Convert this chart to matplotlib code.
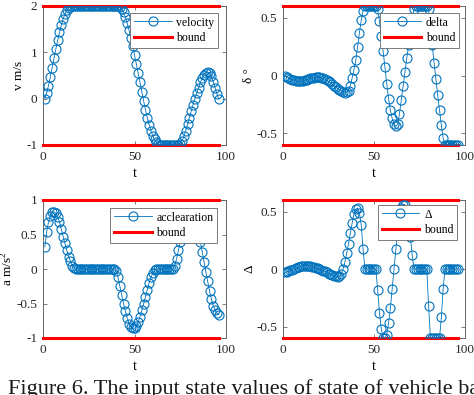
#!/usr/bin/env python

# Four-panel state / input plot with bounds (MATLAB-style look)

import matplotlib
from matplotlib.backends.backend_agg import \
             FigureCanvasAgg as FigureCanvas
from matplotlib.figure import Figure

# Time steps
t = list(range(1, 97))

velocity = [0.0, 0.12, 0.28, 0.47, 0.67, 0.87, 1.07, 1.26, 1.43, 1.58,
            1.72, 1.83, 1.91, 1.96, 1.99, 2.0, 2.0, 2.0, 2.0, 2.0,
            2.0, 2.0, 2.0, 2.0, 2.0, 2.0, 2.0, 2.0, 2.0, 2.0,
            2.0, 2.0, 2.0, 2.0, 2.0, 2.0, 2.0, 2.0, 2.0, 2.0,
            2.0, 1.98, 1.94, 1.86, 1.76, 1.63, 1.48, 1.31, 1.13, 0.94,
            0.75, 0.55, 0.35, 0.15, -0.05, -0.24, -0.41, -0.56, -0.69, -0.8,
            -0.88, -0.94, -0.98, -1.0, -1.0, -1.0, -1.0, -1.0, -1.0, -1.0,
            -1.0, -1.0, -1.0, -1.0, -0.97, -0.91, -0.81, -0.69, -0.55, -0.41,
            -0.27, -0.13, 0.0, 0.12, 0.24, 0.35, 0.44, 0.51, 0.56, 0.57,
            0.55, 0.48, 0.37, 0.24, 0.11, 0.0]

delta = [0.0, -0.01, -0.02, -0.03, -0.035, -0.04, -0.045, -0.05, -0.05, -0.05,
         -0.045, -0.04, -0.035, -0.03, -0.025, -0.02, -0.02, -0.015, -0.015, -0.015,
         -0.02, -0.025, -0.03, -0.04, -0.05, -0.06, -0.075, -0.09, -0.1, -0.115,
         -0.125, -0.135, -0.145, -0.15, -0.145, -0.13, -0.09, -0.02, 0.05, 0.13,
         0.25, 0.37, 0.48, 0.56, 0.6, 0.6, 0.6, 0.6, 0.6, 0.6,
         0.6, 0.57, 0.47, 0.34, 0.21, 0.07, -0.07, -0.2, -0.3, -0.37,
         -0.42, -0.44, -0.42, -0.33, -0.21, -0.09, 0.03, 0.15, 0.26, 0.38,
         0.5, 0.57, 0.6, 0.6, 0.6, 0.6, 0.6, 0.6, 0.6, 0.57,
         0.45, 0.26, 0.11, -0.03, -0.17, -0.3, -0.43, -0.54, -0.6, -0.6,
         -0.6, -0.6, -0.6, -0.6, -0.6, -0.6]

accel = [0.32, 0.54, 0.68, 0.77, 0.82, 0.83, 0.81, 0.76, 0.68, 0.58,
         0.47, 0.37, 0.27, 0.18, 0.11, 0.05, 0.02, 0.0, 0.0, 0.0,
         0.0, 0.0, 0.0, 0.0, 0.0, 0.0, 0.0, 0.0, 0.0, 0.0,
         0.0, 0.0, 0.0, 0.0, 0.0, 0.0, 0.0, 0.0, 0.0, -0.03,
         -0.12, -0.25, -0.38, -0.5, -0.61, -0.71, -0.79, -0.84, -0.86, -0.86,
         -0.83, -0.77, -0.69, -0.6, -0.5, -0.4, -0.3, -0.2, -0.12, -0.06,
         -0.02, 0.0, 0.0, 0.0, 0.0, 0.0, 0.0, 0.0, 0.0, 0.0,
         0.0, 0.05, 0.15, 0.27, 0.39, 0.47, 0.55, 0.64, 0.71, 0.75,
         0.76, 0.74, 0.69, 0.6, 0.5, 0.39, 0.25, 0.1, -0.04, -0.18,
         -0.32, -0.44, -0.53, -0.6, -0.64, -0.66]

Delta = [-0.03, -0.025, -0.02, -0.01, -0.005, 0.0, 0.01, 0.015, 0.02, 0.025,
         0.03, 0.03, 0.03, 0.03, 0.025, 0.02, 0.015, 0.01, 0.005, 0.0,
         -0.01, -0.015, -0.02, -0.03, -0.04, -0.045, -0.05, -0.06, -0.065, -0.07,
         -0.065, -0.04, 0.0, 0.06, 0.14, 0.22, 0.31, 0.4, 0.48, 0.52,
         0.53, 0.49, 0.38, 0.17, 0.0, 0.0, 0.0, 0.0, 0.0, 0.0,
         0.0, -0.18, -0.38, -0.52, -0.6, -0.6, -0.57, -0.47, -0.34, -0.17,
         0.0, 0.17, 0.33, 0.46, 0.53, 0.56, 0.56, 0.5, 0.4, 0.28,
         0.12, 0.0, 0.0, 0.0, 0.0, 0.0, 0.0, 0.0, 0.0, -0.32,
         -0.6, -0.6, -0.6, -0.6, -0.6, -0.6, -0.42, -0.17, 0.0, 0.0,
         0.0, 0.0, 0.0, 0.0, 0.0, 0.0]

bound_t = [0, 96]
v_bounds = (2.0, -1.0)
delta_bounds = (0.6, -0.6)
a_bounds = (1.0, -1.0)
Delta_bounds = (0.6, -0.6)

caption = "Figure 6. The input state values of state of vehicle based"

W, H = 474, 395
fig = Figure(figsize=(W/100, H/100), dpi=100, facecolor='white')
canvas = FigureCanvas(fig)
matplotlib.rcParams['font.family'] = ['Liberation Serif', 'DejaVu Serif']
matplotlib.rcParams['axes.unicode_minus'] = False
matplotlib.rcParams['mathtext.fontset'] = 'custom'
matplotlib.rcParams['mathtext.rm'] = 'Liberation Serif'

blue = (0.0, 0.447, 0.741)
grey = (0.4, 0.4, 0.4)

def px_axes(x0, y0, x1, y1):
    # pixel box (top-left origin) -> figure fraction axes
    return fig.add_axes([x0/W, 1-y1/H, (x1-x0)/W, (y1-y0)/H])

panels = [
    # data, bounds, label, ylabel, ylim, yticks, axes box, legend corner
    (velocity, v_bounds, 'velocity', 'v m/s', (-1, 2), [-1, 0, 1, 2],
     (43, 6, 226, 145), (218, 13)),
    (delta, delta_bounds, 'delta', 'δ °', (-0.6, 0.6), [-0.5, 0, 0.5],
     (283, 6, 465, 145), (459, 13)),
    (accel, a_bounds, 'acclearation', 'a m/s$^2$', (-1, 1), [-1, -0.5, 0, 0.5, 1],
     (43, 200, 226, 338), (217, 208)),
    (Delta, Delta_bounds, 'Δ', 'Δ', (-0.6, 0.6), [-0.5, 0, 0.5],
     (283, 200, 465, 338), (457, 205)),
]

for data, bnd, lab, ylab, ylim, yt, box, lcorner in panels:
    ax = px_axes(*box)
    ax.plot(t, data, color=blue, linewidth=0.6, marker='o',
            markersize=6.5, markerfacecolor='none', markeredgewidth=0.8,
            label=lab, zorder=3)
    ax.plot(bound_t, [bnd[0], bnd[0]], color='red', linewidth=2.2,
            label='bound', zorder=2.7, clip_on=False)
    ax.plot(bound_t, [bnd[1], bnd[1]], color='red', linewidth=2.2,
            zorder=2.7, clip_on=False)
    ax.set_xlim(0, 100)
    ax.set_ylim(*ylim)
    ax.set_xticks([0, 50, 100])
    ax.set_yticks(yt)
    ax.set_yticklabels(['%g' % v for v in yt])
    ax.tick_params(direction='in', length=3, width=0.6, labelsize=9.5,
                   colors=grey, labelcolor=(0.15, 0.15, 0.15),
                   top=True, right=True, pad=4)
    for s in ax.spines.values():
        s.set_color(grey)
        s.set_linewidth(0.7)
    ax.set_xlabel('t', fontsize=10, labelpad=3)
    ax.set_ylabel(ylab, fontsize=9.5, labelpad=1)
    leg = ax.legend(loc='upper right',
                    bbox_to_anchor=(lcorner[0]/W, 1-lcorner[1]/H),
                    bbox_transform=fig.transFigure,
                    fontsize=8.5, handlelength=3.2, handletextpad=0.4,
                    borderpad=0.3, labelspacing=0.3, fancybox=False,
                    framealpha=1, edgecolor=grey, borderaxespad=0)
    leg.get_frame().set_linewidth(0.6)

fig.text(8/W, 1-379/H, caption, fontsize=16, ha='left', va='top',
         color=(0.1, 0.1, 0.1))

fig.savefig('out.png', dpi=100)
